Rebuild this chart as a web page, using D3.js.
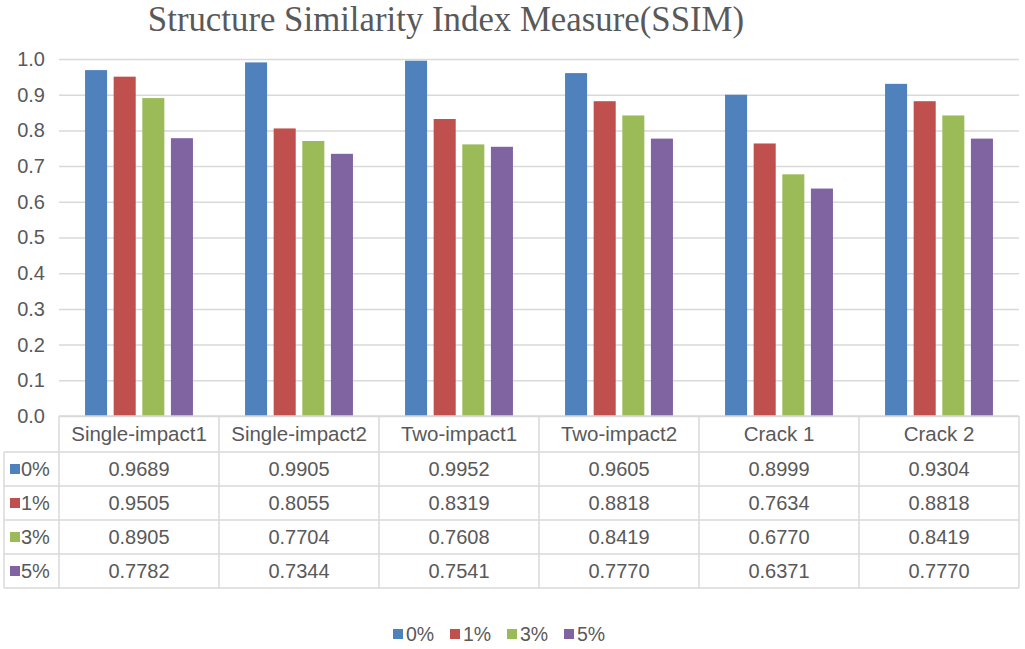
<!DOCTYPE html>
<html>
<head>
<meta charset="utf-8">
<script src="https://cdn.jsdelivr.net/npm/d3@7"></script>
<style>
  body { margin: 0; background: #fff; }
  svg { display: block; }
  text { fill: #595959; font-family: "Liberation Sans", Arial, sans-serif; }
</style>
</head>
<body>
<svg id="chart" width="1025" height="649"></svg>
<script>
// chart data
const categories = ['Single-impact1', 'Single-impact2', 'Two-impact1', 'Two-impact2', 'Crack 1', 'Crack 2'];
const seriesNames = ['0%', '1%', '3%', '5%'];
const values0 = [0.9689, 0.9905, 0.9952, 0.9605, 0.8999, 0.9304];
const values1 = [0.9505, 0.8055, 0.8319, 0.8818, 0.7634, 0.8818];
const values3 = [0.8905, 0.7704, 0.7608, 0.8419, 0.6770, 0.8419];
const values5 = [0.7782, 0.7344, 0.7541, 0.7770, 0.6371, 0.7770];
const yTicks = [0, 0.1, 0.2, 0.3, 0.4, 0.5, 0.6, 0.7, 0.8, 0.9, 1.0];
const colors = ['#4F81BD', '#C0504D', '#9BBB59', '#8064A2'];

const seriesValues = [values0, values1, values3, values5];
const gridColor = '#d9d9d9';

const svg = d3.select('#chart');

// scales
const x = d3.scaleBand().domain(categories).range([59, 1019]);
const x1 = d3.scaleBand().domain(seriesNames).range([0, x.bandwidth()])
    .paddingInner(0.23).paddingOuter(0.91);
const y = d3.scaleLinear().domain([0, 1]).range([416, 59]);
const color = d3.scaleOrdinal().domain(seriesNames).range(colors);

// title
svg.append('text')
    .attr('x', 446)
    .attr('y', 31)
    .attr('text-anchor', 'middle')
    .style('font-family', '"Liberation Serif", "Times New Roman", serif')
    .style('font-size', '34.8px')
    .text('Structure Similarity Index Measure(SSIM)');

// gridlines + y labels
const yAxis = d3.axisLeft(y).tickValues(yTicks).tickFormat(d3.format('.1f'))
    .tickSize(-(1019 - 59)).tickPadding(14);
const gy = svg.append('g').attr('transform', 'translate(59,0)').call(yAxis);
gy.select('.domain').remove();
gy.selectAll('.tick line').attr('stroke', gridColor).attr('stroke-width', 1.5);
gy.selectAll('.tick text').style('font-size', '20px').attr('fill', '#595959');

// bars
const groups = svg.append('g').selectAll('g')
    .data(categories)
    .join('g')
    .attr('transform', d => `translate(${x(d)},0)`);

groups.selectAll('rect')
    .data((c, i) => seriesNames.map((s, j) => ({ s, v: seriesValues[j][i] })))
    .join('rect')
    .attr('x', d => x1(d.s))
    .attr('width', x1.bandwidth())
    .attr('y', d => y(d.v))
    .attr('height', d => y(0) - y(d.v))
    .attr('fill', d => color(d.s));

// data table under the plot
const headerTop = y(0);
const headerH = 36;
const rowH = 34;
const labelLeft = 4;
const table = svg.append('g');
const tableBottom = headerTop + headerH + rowH * seriesNames.length;

// horizontal lines
table.append('line')
    .attr('x1', x.range()[0]).attr('x2', x.range()[1])
    .attr('y1', headerTop).attr('y2', headerTop);
for (let r = 0; r <= seriesNames.length; r++) {
    const yy = headerTop + headerH + r * rowH;
    table.append('line')
        .attr('x1', labelLeft).attr('x2', x.range()[1])
        .attr('y1', yy).attr('y2', yy);
}
// vertical lines
table.append('line')
    .attr('x1', labelLeft).attr('x2', labelLeft)
    .attr('y1', headerTop + headerH).attr('y2', tableBottom);
categories.concat(['end']).forEach((c, i) => {
    const xx = c === 'end' ? x.range()[1] : x(c);
    table.append('line')
        .attr('x1', xx).attr('x2', xx)
        .attr('y1', headerTop).attr('y2', tableBottom);
});
table.selectAll('line').attr('stroke', gridColor).attr('stroke-width', 1.5);

// header text
table.selectAll('text.head')
    .data(categories)
    .join('text')
    .attr('class', 'head')
    .attr('x', d => x(d) + x.bandwidth() / 2)
    .attr('y', headerTop + headerH / 2)
    .attr('dy', '0.35em')
    .attr('text-anchor', 'middle')
    .style('font-size', '20.5px')
    .text(d => d);

// rows
seriesNames.forEach((s, j) => {
    const cy = headerTop + headerH + j * rowH + rowH / 2;
    table.append('rect')
        .attr('x', 10).attr('y', cy - 5)
        .attr('width', 10).attr('height', 10)
        .attr('fill', color(s));
    table.append('text')
        .attr('x', 21).attr('y', cy)
        .attr('dy', '0.35em')
        .style('font-size', '20px')
        .text(s);
    table.selectAll(null)
        .data(seriesValues[j])
        .join('text')
        .attr('x', (d, i) => x(categories[i]) + x.bandwidth() / 2)
        .attr('y', cy)
        .attr('dy', '0.35em')
        .attr('text-anchor', 'middle')
        .style('font-size', '20px')
        .text(d => d.toFixed(4));
});

// legend
const legend = svg.append('g').attr('transform', 'translate(393,634)');
const legendItems = legend.selectAll('g')
    .data(seriesNames)
    .join('g')
    .attr('transform', (d, i) => `translate(${i * 57},0)`);
legendItems.append('rect')
    .attr('x', 0).attr('y', -5)
    .attr('width', 10).attr('height', 10)
    .attr('fill', d => color(d));
legendItems.append('text')
    .attr('x', 13).attr('y', 0)
    .attr('dy', '0.35em')
    .style('font-size', '19.5px')
    .text(d => d);
</script>
</body>
</html>
